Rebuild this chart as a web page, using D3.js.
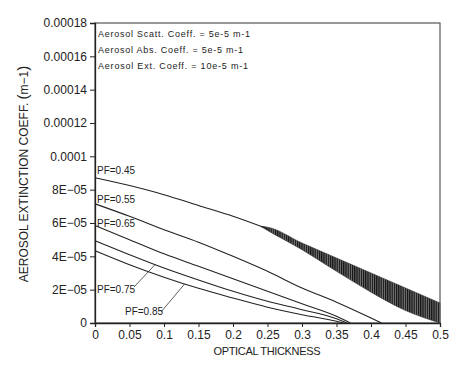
<!DOCTYPE html>
<html><head><meta charset="utf-8">
<script src="https://cdn.jsdelivr.net/npm/d3@7"></script>
<style>
body{margin:0;background:#fff;}
text{font-family:"Liberation Sans",Arial,sans-serif;fill:#222;}
</style></head>
<body><svg id="c" width="474" height="371"></svg>
<script>
// ---- data ----
const xTickValues = [0,0.05,0.1,0.15,0.2,0.25,0.3,0.35,0.4,0.45,0.5];
const xTickLabels = ["0","0.05","0.1","0.15","0.2","0.25","0.3","0.35","0.4","0.45","0.5"];
const yTickValues = [0,2e-5,4e-5,6e-5,8e-5,1e-4,1.2e-4,1.4e-4,1.6e-4,1.8e-4];
const yTickLabels = ["0","2E\u221205","4E\u221205","6E\u221205","8E\u221205","0.0001","0.00012","0.00014","0.00016","0.00018"];

// PF=0.45 (smooth part) and its noisy band (upper/lower envelopes)
const tau045 = [0,0.05,0.1,0.15,0.2,0.25];
const pf045 = [8.72e-5,8.25e-5,7.7e-5,7.05e-5,6.4e-5,5.65e-5];
const tauBand = [0.24,0.25,0.3,0.35,0.4,0.45,0.5];
const bandUpper = [5.8e-5,5.75e-5,4.8e-5,3.9e-5,3.0e-5,2.1e-5,1.2e-5];
const bandLower = [5.8e-5,5.55e-5,4.4e-5,3.1e-5,1.85e-5,0.75e-5,0];

const tau055 = [0,0.05,0.1,0.15,0.2,0.25,0.3,0.35,0.4,0.415];
const pf055 = [7.15e-5,6.4e-5,5.6e-5,4.85e-5,4.0e-5,3.1e-5,2.1e-5,1.25e-5,0.3e-5,0];
const tau065 = [0,0.05,0.1,0.15,0.2,0.25,0.3,0.35,0.37];
const pf065 = [5.85e-5,5.0e-5,4.15e-5,3.4e-5,2.65e-5,1.9e-5,1.15e-5,0.4e-5,0];
const tau075 = [0,0.05,0.1,0.15,0.2,0.25,0.3,0.35,0.365];
const pf075 = [4.94e-5,4.1e-5,3.3e-5,2.58e-5,1.9e-5,1.3e-5,0.8e-5,0.25e-5,0];
const tau085 = [0,0.05,0.1,0.15,0.2,0.25,0.3,0.35,0.36];
const pf085 = [4.34e-5,3.5e-5,2.75e-5,2.08e-5,1.5e-5,0.95e-5,0.5e-5,0.1e-5,0];

const notes = ["Aerosol Scatt. Coeff. = 5e-5 m-1","Aerosol Abs. Coeff. = 5e-5 m-1","Aerosol Ext. Coeff. = 10e-5 m-1"];
const noteWidths = [152,145,150];

// ---- chart ----
const svg = d3.select("#c");
const m = {l:95,t:23,r:440,b:323};
const x = d3.scaleLinear().domain([0,0.5]).range([m.l,m.r]);
const y = d3.scaleLinear().domain([0,1.8e-4]).range([m.b,m.t]);

// frame
svg.append("rect").attr("x",m.l).attr("y",m.t).attr("width",m.r-m.l).attr("height",m.b-m.t)
  .attr("fill","none").attr("stroke","#555").attr("stroke-width",1.2);

// hatch pattern
const defs = svg.append("defs");
const pat = defs.append("pattern").attr("id","hatch").attr("patternUnits","userSpaceOnUse")
  .attr("width",2.2).attr("height",4);
pat.append("rect").attr("width",2.2).attr("height",4).attr("fill","#777");
pat.append("line").attr("x1",0.6).attr("x2",0.6).attr("y1",0).attr("y2",4).attr("stroke","#111").attr("stroke-width",1.2);

const xAxis = d3.axisBottom(x).tickValues(xTickValues).tickFormat((d,i)=>xTickLabels[i]).tickSize(4).tickPadding(3);
const gx = svg.append("g").attr("transform",`translate(0,${m.b})`).call(xAxis);
gx.select(".domain").attr("stroke","#222").attr("stroke-width",1.3);
gx.selectAll(".tick line").attr("stroke","#222");
gx.selectAll("text").attr("font-size",12).attr("font-family","Liberation Sans, Arial, sans-serif").attr("fill","#222");

const yAxis = d3.axisLeft(y).tickValues(yTickValues).tickFormat((d,i)=>yTickLabels[i]).tickSize(5).tickPadding(3);
const gy = svg.append("g").attr("transform",`translate(${m.l},0)`).call(yAxis);
gy.select(".domain").attr("stroke","#222").attr("stroke-width",1.3);
gy.selectAll(".tick line").attr("stroke","#222");
gy.selectAll("text").attr("font-size",12).attr("font-family","Liberation Sans, Arial, sans-serif").attr("fill","#222");

// axis titles
svg.append("text").attr("x",267).attr("y",355).attr("text-anchor","middle").attr("font-size",11)
  .attr("textLength",107).text("OPTICAL THICKNESS");
const yl = svg.append("text").attr("transform","translate(28,174) rotate(-90)").attr("text-anchor","middle").attr("font-size",12);
yl.append("tspan").text("AEROSOL EXTINCTION COEFF. ");
yl.append("tspan").attr("font-size",15).text("(");
yl.append("tspan").text("m\u22121");
yl.append("tspan").attr("font-size",15).text(")");

// band
const area = d3.area().x((d,i)=>x(tauBand[i])).y0((d,i)=>y(bandLower[i])).y1((d,i)=>y(bandUpper[i])).curve(d3.curveMonotoneX);
svg.append("path").datum(tauBand).attr("d",area).attr("fill","url(#hatch)").attr("stroke","#333").attr("stroke-width",0.6);

// lines
const series = [[tau045,pf045],[tau055,pf055],[tau065,pf065],[tau075,pf075],[tau085,pf085]];
series.forEach(([t,v])=>{
  const line = d3.line().x((d,i)=>x(t[i])).y((d,i)=>y(v[i])).curve(d3.curveMonotoneX);
  svg.append("path").datum(v).attr("d",line).attr("fill","none").attr("stroke","#222").attr("stroke-width",1.1);
});

// labels
const lab = (tx,ty,s)=>svg.append("text").attr("x",tx).attr("y",ty).attr("font-size",10).text(s);
lab(97,174,"PF=0.45");
lab(97,203,"PF=0.55");
lab(97,227,"PF=0.65");
lab(97,293,"PF=0.75");
lab(125,315,"PF=0.85");
// leader lines
svg.append("line").attr("x1",134).attr("y1",287).attr("x2",x(0.087)).attr("y2",y(3.5e-5)).attr("stroke","#333").attr("stroke-width",0.8);
svg.append("line").attr("x1",161).attr("y1",312).attr("x2",x(0.13)).attr("y2",y(2.35e-5)).attr("stroke","#333").attr("stroke-width",0.8);

// notes
notes.forEach((s,i)=>svg.append("text").attr("x",98).attr("y",37+i*16).attr("font-size",9)
  .attr("textLength",noteWidths[i]).text(s));
</script></body></html>
